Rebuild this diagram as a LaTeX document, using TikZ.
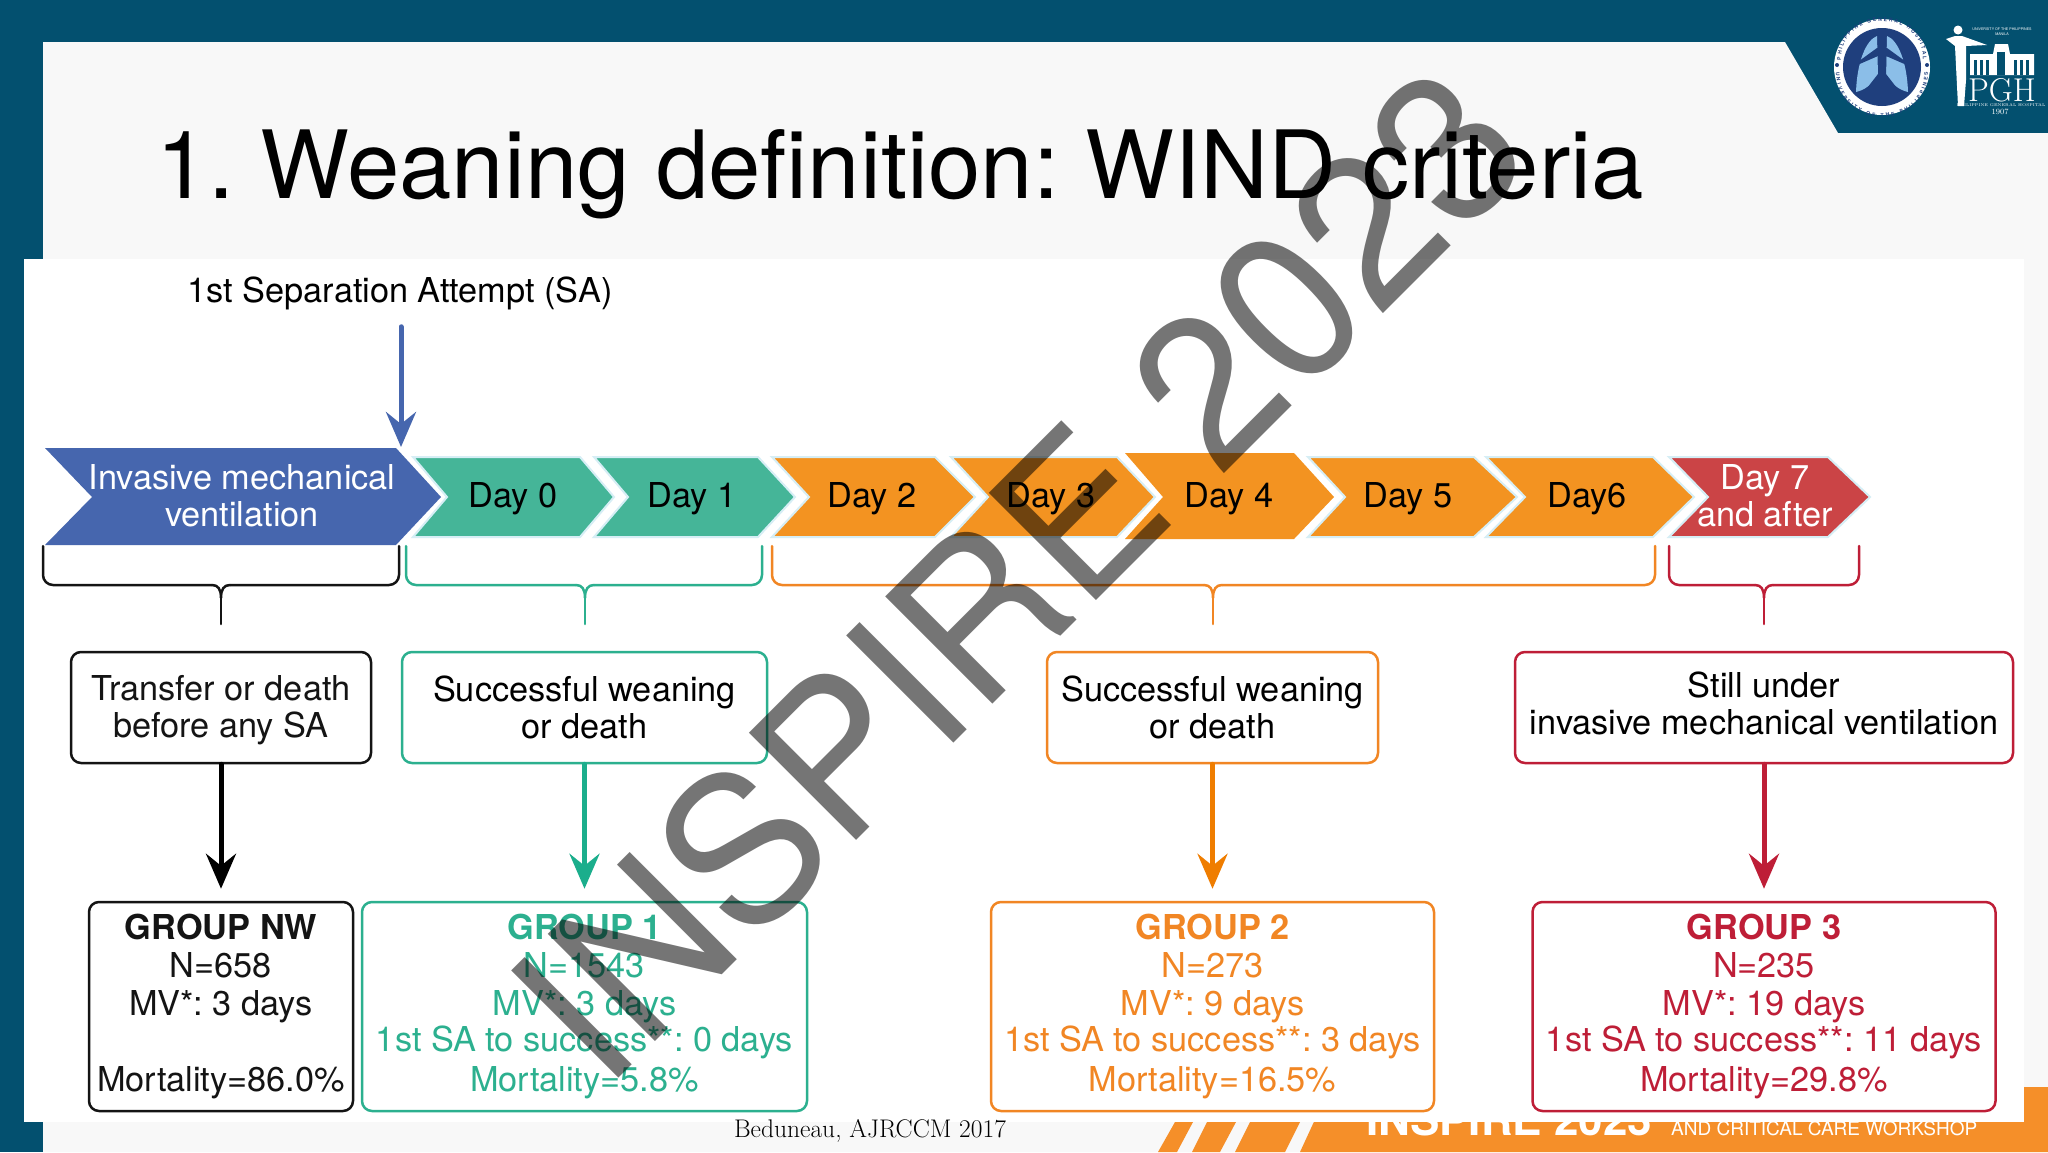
\documentclass[tikz,border=0pt]{standalone}
\usepackage{fontspec}
\setsansfont{TeX Gyre Heros}
\usetikzlibrary{arrows.meta, decorations.text}
\definecolor{navy}{RGB}{3,80,111}
\definecolor{slide}{RGB}{248,248,248}
\definecolor{banner}{RGB}{245,143,41}
\definecolor{colorNW}{RGB}{20,20,20}
\definecolor{color1}{RGB}{44,176,143}
\definecolor{color2}{RGB}{241,134,36}
\definecolor{color3}{RGB}{190,30,55}
\definecolor{flow1}{RGB}{27,174,140}
\definecolor{flow2}{RGB}{239,125,0}
\definecolor{dayblue}{RGB}{70,102,174}
\definecolor{daygreen}{RGB}{69,181,152}
\definecolor{dayorange}{RGB}{243,147,33}
\definecolor{dayred}{RGB}{203,68,70}
\definecolor{dayedge}{RGB}{214,238,245}
\definecolor{sealblue}{RGB}{31,63,125}
\definecolor{lungblue}{RGB}{139,190,232}
\tikzset{
    daytext/.style={font=\sffamily\fontsize{34.3}{37}\selectfont, align=center, inner sep=0pt},
    daylab/.style={daytext, text=white},
    choice/.style={daytext, draw, line width=2.5pt, rounded corners=10pt, minimum height=111pt},
    grouplab/.style={font=\sffamily\fontsize{34.3}{38}\selectfont, align=center, inner sep=0pt, draw, line width=2.5pt, rounded corners=10pt, minimum height=209pt},
    flow/.style={line width=5pt, -{Stealth[length=35pt,width=30pt,inset=12pt]}, shorten >=12pt},
    brace/.style={line width=2.5pt, rounded corners=10pt},
}
\begin{document}
\frenchspacing
\begin{tikzpicture}[x=1pt, y=-1pt, line cap=round]
    \useasboundingbox (0,0) rectangle (2048,1152);
    % slide background
    \fill [navy] (0,0) rectangle (2048,1152);
    \fill [slide] (43,42) -- (1785,42) -- (1838,133) -- (2048,133) -- (2048,1152) -- (43,1152) -- cycle;

    % orange banner at the foot
    \fill [banner] (1175,1122) -- (1193,1122) -- (1177,1152) -- (1158,1152) -- cycle;
    \fill [banner] (1207,1122) -- (1236,1122) -- (1220,1152) -- (1192,1152) -- cycle;
    \fill [banner] (1250,1122) -- (1300,1122) -- (1285,1152) -- (1235,1152) -- cycle;
    \fill [banner] (1330,1087) -- (2048,1087) -- (2048,1152) -- (1300,1152) -- cycle;
    \node [anchor=base west, inner sep=0pt, text=white, font=\sffamily\bfseries\fontsize{44}{44}\selectfont] (footname) at (1366,1135) {INSPIRE 2023};
    \node [anchor=base west, inner sep=0pt, text=white, font=\sffamily\fontsize{19}{19}\selectfont] (footwork) at (1671,1135) {AND CRITICAL CARE WORKSHOP};

    % white panel and title
    \fill [white] (24,259) rectangle (2024,1122);
    \node [anchor=base west, inner sep=0pt, font=\sffamily\fontsize{94.2}{94}\selectfont] (title) at (156,198) {1. Weaning definition: WIND criteria};
    \node [inner sep=0pt, font=\rmfamily\fontsize{25.5}{26}\selectfont] (source) at (870,1131) {Beduneau, AJRCCM 2017};

    % seal
    \fill [white] (1882,67) circle (48);
    \fill [sealblue] (1882,67) circle (39);
    \fill [lungblue] (1877,36) .. controls (1866,40) and (1857,62) .. (1856,92) .. controls (1865,90) and (1872,84) .. (1878,76) -- cycle;
    \fill [lungblue] (1887,36) .. controls (1898,40) and (1907,62) .. (1908,92) .. controls (1899,90) and (1892,84) .. (1886,76) -- cycle;
    \fill [sealblue] (1877,48) -- (1855,64) -- (1855,66) -- (1878,56) -- (1878,74) -- (1864,92) -- (1900,92) -- (1886,74) -- (1886,56) -- (1909,66) -- (1909,64) -- (1887,48) -- cycle;
    \fill [sealblue] (1837,65) circle (2);
    \fill [sealblue] (1927,65) circle (2);
    \path [decorate, decoration={text along path, text align={fit to path}, text color=sealblue, text={|\sffamily\bfseries\fontsize{5}{6}\selectfont|PHILIPPINE GENERAL HOSPITAL}}] (1841,60) .. controls (1841,8) and (1923,8) .. (1923,60);
    \path [decorate, decoration={text along path, text align={fit to path}, text color=sealblue, text={|\sffamily\bfseries\fontsize{5}{6}\selectfont|UNIVERSITY OF THE PHILIPPINES}}] (1836,72) .. controls (1836,132) and (1928,132) .. (1928,72);

    % hospital mark
    \fill [white] (1958,30) circle (4.5);
    \fill [white] (1946,39) -- (1955,36) -- (1962,36) -- (1987,45) -- (1966,46) -- (1966,80) -- (1964,106) -- (1958,106) -- (1955,46) -- cycle;
    \fill [white] (1970,54) -- (1993,54) -- (1995,44) -- (2008,44) -- (2010,54) -- (2034,54) -- (2034,75) -- (1970,75) -- cycle;
    \foreach \winx in {1974,1980,1986,2014,2020,2026}{
        \fill [navy] (\winx,60) rectangle (\winx+3,75);
    }
    \fill [navy] (1997,52) rectangle (2005,75);
    \node [inner sep=0pt, text=white, font=\rmfamily\fontsize{33}{33}\selectfont] (pgh) at (2002,90) {PGH};
    \node [inner sep=0pt, text=white, align=center, font=\sffamily\fontsize{3.6}{5}\selectfont] (upm) at (2002,32) {UNIVERSITY OF THE PHILIPPINES\\MANILA};
    \node [inner sep=0pt, text=white, align=center, font=\rmfamily\fontsize{4}{5}\selectfont] (pghname) at (2001,105) {PHILIPPINE GENERAL HOSPITAL};
    \node [inner sep=0pt, text=white, font=\rmfamily\fontsize{8}{8}\selectfont] (founded) at (2000,112) {1907};

    % separation attempt
    \node [daytext] (attempt) at (400,293) {1st Separation Attempt (SA)};
    \coordinate (attemptend) at (401,447);
    \draw [dayblue, line width=5pt, -{Stealth[length=35pt,width=30pt,inset=12pt]}, shorten <=17pt] (attempt.south -| attemptend) -- (attemptend);

    % timeline
    \fill [dayblue] (45,448) -- (396,448) -- (441,497) -- (396,545) -- (45,545) -- (92,497) -- cycle;
    \filldraw [daygreen, draw=dayedge, line width=2pt] (413,457) -- (580,457) -- (614,497) -- (580,537) -- (413,537) -- (447,497) -- cycle;
    \filldraw [daygreen, draw=dayedge, line width=2pt] (594,457) -- (758,457) -- (795,497) -- (758,537) -- (594,537) -- (628,497) -- cycle;
    \filldraw [dayorange, draw=dayedge, line width=2pt] (772,457) -- (935,457) -- (975,497) -- (935,537) -- (772,537) -- (809,497) -- cycle;
    \filldraw [dayorange, draw=dayedge, line width=2pt] (951,457) -- (1117,457) -- (1155,497) -- (1117,537) -- (951,537) -- (988,497) -- cycle;
    \filldraw [dayorange, draw=dayedge, line width=2pt] (1308,457) -- (1474,457) -- (1517,497) -- (1474,537) -- (1308,537) -- (1345,497) -- cycle;
    \filldraw [dayorange, draw=dayedge, line width=2pt] (1486,457) -- (1653,457) -- (1694,497) -- (1653,537) -- (1486,537) -- (1525,497) -- cycle;
    \fill [dayorange] (1125,453) -- (1294,453) -- (1334,497) -- (1294,539) -- (1125,539) -- (1163,497) -- cycle;
    \filldraw [dayred, draw=dayedge, line width=2pt] (1669,457) -- (1828,457) -- (1870,497) -- (1828,537) -- (1669,537) -- (1708,497) -- cycle;

    \node [daylab] (imv) at (242,496) {Invasive mechanical\\ventilation};
    \node [daytext] (day0) at (513,499) {Day 0};
    \node [daytext] (day1) at (692,499) {Day 1};
    \node [daytext] (day2) at (872,499) {Day 2};
    \node [daytext] (day3) at (1051,499) {Day 3};
    \node [daytext] (day4) at (1229,499) {Day 4};
    \node [daytext] (day5) at (1408,499) {Day 5};
    \node [daytext] (day6) at (1587,499) {Day6};
    \node [daylab] (day7) at (1765,496) {Day 7\\and after};

    % braces under the timeline
    \foreach \left/\mid/\right/\col in {43/221/399/colorNW, 406/585/762/color1, 772/1213/1655/color2, 1669/1764/1859/color3}{
        \draw [brace, \col] (\left,546) -- (\left,585) -- (\mid-9,585);
        \draw [brace, \col] (\right,546) -- (\right,585) -- (\mid+9,585);
        \draw [\col, line width=2.5pt] (\mid-9,585) .. controls (\mid-3,585) and (\mid,589) .. (\mid,598) .. controls (\mid,589) and (\mid+3,585) .. (\mid+9,585);
        \draw [\col, line width=2.5pt] (\mid,596) -- (\mid,624);
    }

    % outcome boxes
    \node [choice, colorNW, minimum width=300pt] (outcomeNW) at (221,707.5) {\rule{0pt}{31pt}Transfer or death\\before any SA};
    \node [choice, color1, text=black, minimum width=365pt] (outcome1) at (584.5,707.5) {Successful weaning\\or death};
    \node [choice, color2, text=black, minimum width=331pt] (outcome2) at (1212.5,707.5) {Successful weaning\\or death};
    \node [choice, color3, text=black, minimum width=498pt] (outcome3) at (1764,707.5) {Still under\\invasive mechanical ventilation\rule[-9pt]{0pt}{0pt}};

    % groups
    \node [grouplab, colorNW, minimum width=264pt] (groupNW) at (221,1006.5) {\textbf{GROUP NW}\\N=658\\MV*: 3 days\\\mbox{}\\Mortality=86.0\%};
    \node [grouplab, color1, minimum width=445pt] (group1) at (584.5,1006.5) {\textbf{GROUP 1}\\N=1543\\MV*: 3 days\\[-2pt]1st SA to success**: 0 days\\[2pt]Mortality=5.8\%};
    \node [grouplab, color2, minimum width=443pt] (group2) at (1212.5,1006.5) {\textbf{GROUP 2}\\N=273\\MV*: 9 days\\[-2pt]1st SA to success**: 3 days\\[2pt]Mortality=16.5\%};
    \node [grouplab, color3, minimum width=463pt] (group3) at (1764,1006.5) {\textbf{GROUP 3}\\N=235\\MV*: 19 days\\[-2pt]1st SA to success**: 11 days\\[2pt]Mortality=29.8\%};

    \draw [flow, black] (outcomeNW) -- (groupNW);
    \draw [flow, flow1] (outcome1) -- (group1);
    \draw [flow, flow2] (outcome2) -- (group2);
    \draw [flow, color3] (outcome3) -- (group3);

    % watermark over everything
    \node [anchor=base west, inner sep=0pt, rotate=45, xscale=.977, text=black, text opacity=.54, font=\sffamily\fontsize{208}{208}\selectfont] (wmark) at (604,1093) {INSPIRE 2023};
\end{tikzpicture}
\end{document}
